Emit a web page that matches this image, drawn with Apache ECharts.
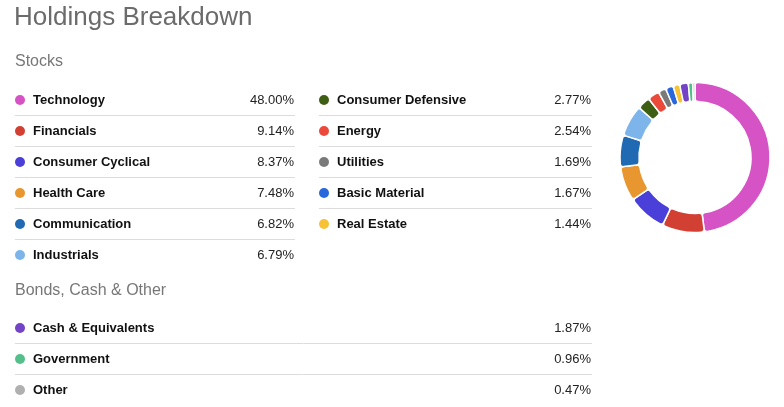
<!DOCTYPE html>
<html>
<head>
<meta charset="utf-8">
<script src="https://cdn.jsdelivr.net/npm/echarts@6/dist/echarts.min.js"></script>
<style>
html,body{margin:0;padding:0;background:#fff;}
#c{width:784px;height:407px;}
</style>
</head>
<body>
<div id="c"></div>
<script>
// ---- data ----
var stockNames = ['Technology','Financials','Consumer Cyclical','Health Care','Communication','Industrials','Consumer Defensive','Energy','Utilities','Basic Material','Real Estate'];
var stockValues = [48.00, 9.14, 8.37, 7.48, 6.82, 6.79, 2.77, 2.54, 1.69, 1.67, 1.44];
var otherNames = ['Cash & Equivalents','Government','Other'];
var otherValues = [1.87, 0.96, 0.47];
var stockColors = ['#d653c5','#d24034','#4a3fd9','#e8962f','#1f6ab3','#7db5eb','#3e5e13','#eb4a3a','#7a7a7a','#2867dc','#f8c237'];
var otherColors = ['#7444c6','#55bf8b','#b0b0b0'];

// ---- layout ----
var FONT = '"Liberation Sans", Arial, Helvetica, sans-serif';
var graphics = [];
function txt(x, y, s, opts) {
  graphics.push({type:'text', x:x, y:y, style:Object.assign({text:s, fontFamily:FONT, textVerticalAlign:'middle', verticalAlign:'middle'}, opts)});
}
function line(x1, x2, y) {
  graphics.push({type:'line', shape:{x1:x1, y1:y, x2:x2, y2:y}, style:{stroke:'#dcdcdc', lineWidth:1}});
}
function dot(x, y, c) {
  graphics.push({type:'circle', shape:{cx:x, cy:y, r:5}, style:{fill:c}});
}
function row(dx, lx, rx, x0, x1, y, name, val, color, last) {
  dot(dx, y, color);
  txt(lx, y + 0.5, name, {fontSize:13, fontWeight:'bold', fill:'#111'});
  txt(rx, y + 0.5, val.toFixed(2) + '%', {fontSize:13, fill:'#222', align:'right', textAlign:'right'});
  if (!last) line(x0, x1, y + 15.5);
}

txt(14, 18, 'Holdings Breakdown', {fontSize:26, fill:'#6b6b6b'});
txt(15, 61.5, 'Stocks', {fontSize:16, fill:'#777'});
txt(15, 290.5, 'Bonds, Cash & Other', {fontSize:16, fill:'#777'});

var ROW0 = 100, STEP = 31, PER_COL = 6;
stockNames.forEach(function(n, i){
  var col = Math.floor(i / PER_COL), r = i % PER_COL;
  var cnt = col === 0 ? PER_COL : stockNames.length - PER_COL;
  if (col === 0) row(20, 33, 294, 15, 295, ROW0 + r*STEP, n, stockValues[i], stockColors[i], r === cnt-1);
  else row(324, 337, 591, 319, 592, ROW0 + r*STEP, n, stockValues[i], stockColors[i], r === cnt-1);
});
otherNames.forEach(function(n, i){
  row(20, 33, 591, 15, 592, 328 + i*STEP, n, otherValues[i], otherColors[i], i === otherNames.length-1);
});

var pieData = stockNames.map(function(n,i){return {name:n, value:stockValues[i], itemStyle:{color:stockColors[i]}};})
  .concat(otherNames.map(function(n,i){return {name:n, value:otherValues[i], itemStyle:{color:otherColors[i]}};}));

var chart = echarts.init(document.getElementById('c'), null, {renderer:'canvas'});
chart.setOption({
  animation:false,
  backgroundColor:'#fff',
  graphic: graphics,
  series:[{
    type:'pie',
    center:[695,157.5],
    radius:[56,75],
    startAngle:90,
    clockwise:true,
    label:{show:false},
    labelLine:{show:false},
    itemStyle:{borderColor:'#fff', borderWidth:1.5, borderRadius:3},
    emphasis:{disabled:true},
    data: pieData
  }]
});
</script>
</body>
</html>
